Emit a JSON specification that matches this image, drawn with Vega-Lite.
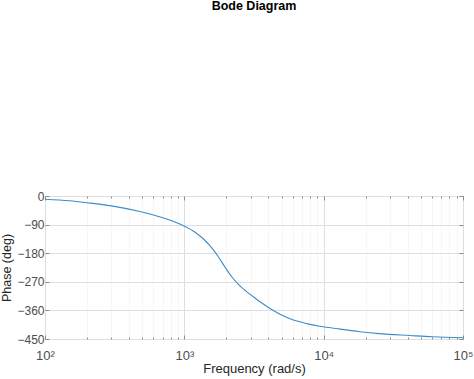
{
  "$schema": "https://vega.github.io/schema/vega-lite/v6.json",
  "autosize": "none",
  "width": 418,
  "height": 143,
  "padding": {"left": 45, "top": 196, "right": 11, "bottom": 40},
  "background": "white",
  "title": {
    "text": "Bode Diagram",
    "font": "Liberation Sans",
    "fontSize": 12.5,
    "fontWeight": "bold",
    "color": "#000000",
    "anchor": "middle",
    "offset": 178
  },
  "config": {
    "view": {"stroke": "#8c8c8c", "strokeWidth": 1},
    "axis": {
      "labelFont": "Liberation Sans",
      "titleFont": "Liberation Sans",
      "labelColor": "#4d4d4d",
      "titleColor": "#262626",
      "titleFontWeight": "normal",
      "domain": false
    }
  },
  "data": {
    "values": [
      {"f": 100, "phase": -10},
      {"f": 150, "phase": -15},
      {"f": 200, "phase": -21},
      {"f": 300, "phase": -31},
      {"f": 480, "phase": -49},
      {"f": 600, "phase": -60},
      {"f": 857, "phase": -82},
      {"f": 1012, "phase": -96},
      {"f": 1194, "phase": -114},
      {"f": 1408, "phase": -140},
      {"f": 1573, "phase": -163},
      {"f": 1754, "phase": -191},
      {"f": 1960, "phase": -224},
      {"f": 2188, "phase": -254},
      {"f": 2443, "phase": -278},
      {"f": 2728, "phase": -297},
      {"f": 3127, "phase": -317},
      {"f": 3493, "phase": -333},
      {"f": 4121, "phase": -354},
      {"f": 4864, "phase": -372},
      {"f": 5741, "phase": -386},
      {"f": 6776, "phase": -396},
      {"f": 7980, "phase": -404},
      {"f": 9420, "phase": -410},
      {"f": 13100, "phase": -419},
      {"f": 18200, "phase": -427},
      {"f": 25000, "phase": -433},
      {"f": 41700, "phase": -439},
      {"f": 60000, "phase": -443},
      {"f": 100000, "phase": -446}
    ]
  },
  "layer": [
    {
      "mark": {"type": "line", "color": "#3d8cc8", "strokeWidth": 1.1, "interpolate": "monotone", "clip": true},
      "encoding": {
        "x": {
          "field": "f",
          "type": "quantitative",
          "scale": {"type": "log", "domain": [100, 100000], "nice": false},
          "axis": {
            "orient": "bottom",
            "title": "Frequency  (rad/s)",
            "titleFontSize": 13,
            "titlePadding": -2,
            "values": [100,200,300,400,500,600,700,800,900,1000,2000,3000,4000,5000,6000,7000,8000,9000,10000,20000,30000,40000,50000,60000,70000,80000,90000,100000],
            "labelExpr": "datum.value == 100 ? '10²' : datum.value == 1000 ? '10³' : datum.value == 10000 ? '10⁴' : datum.value == 100000 ? '10⁵' : ''",
            "labelFontSize": 13,
            "labelPadding": 14,
            "labelOverlap": false,
            "labelBound": false,
            "labelFlush": false,
            "grid": true,
            "gridColor": {"condition": {"test": "datum.value == 100 || datum.value == 1000 || datum.value == 10000 || datum.value == 100000", "value": "#dedede"}, "value": "#ececec"},
            "gridDash": {"condition": {"test": "datum.value == 100 || datum.value == 1000 || datum.value == 10000 || datum.value == 100000", "value": []}, "value": [1, 1]},
            "ticks": true,
            "tickColor": "#8c8c8c",
            "tickSize": {"condition": {"test": "datum.value == 100 || datum.value == 1000 || datum.value == 10000 || datum.value == 100000", "value": -4}, "value": -2}
          }
        },
        "y": {
          "field": "phase",
          "type": "quantitative",
          "scale": {"domain": [-450, 0], "nice": false, "zero": false},
          "axis": {
            "orient": "left",
            "title": "Phase (deg)",
            "titleFontSize": 12.5,
            "titlePadding": 3,
            "values": [0, -90, -180, -270, -360, -450],
            "labelFontSize": 12,
            "labelPadding": 5,
            "grid": true,
            "gridColor": "#dedede",
            "ticks": true,
            "tickColor": "#8c8c8c",
            "tickSize": -4
          }
        }
      }
    },
    {
      "mark": {"type": "line", "opacity": 0},
      "encoding": {
        "x": {
          "field": "f",
          "type": "quantitative",
          "axis": {
            "orient": "top",
            "title": null,
            "labels": false,
            "grid": false,
            "values": [100,200,300,400,500,600,700,800,900,1000,2000,3000,4000,5000,6000,7000,8000,9000,10000,20000,30000,40000,50000,60000,70000,80000,90000,100000],
            "tickColor": "#8c8c8c",
            "tickSize": {"condition": {"test": "datum.value == 100 || datum.value == 1000 || datum.value == 10000 || datum.value == 100000", "value": -4}, "value": -2}
          }
        },
        "y": {
          "field": "phase",
          "type": "quantitative",
          "axis": {
            "orient": "right",
            "title": null,
            "labels": false,
            "grid": false,
            "values": [0, -90, -180, -270, -360, -450],
            "tickColor": "#8c8c8c",
            "tickSize": -4
          }
        }
      }
    }
  ]
}
